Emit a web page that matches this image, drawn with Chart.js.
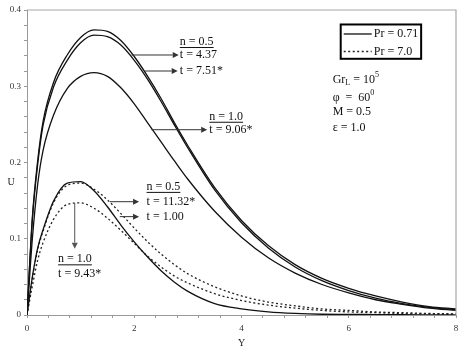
<!DOCTYPE html>
<html>
<head>
<meta charset="utf-8">
<script src="https://cdn.jsdelivr.net/npm/chart.js@4.4.1/dist/chart.umd.min.js"></script>
<style>
  html, body { margin: 0; padding: 0; background: #fff; }
</style>
</head>
<body>
<canvas id="chart" width="474" height="351"></canvas>
<script>
// Y positions shared by every profile
const yPos = [0, 0.1, 0.2, 0.3, 0.5, 0.75, 1.0, 1.25, 1.5, 1.75, 2.0, 2.25, 2.5, 2.75, 3.0, 3.5, 4.0, 4.5, 5.0, 5.5, 6.0, 6.5, 7.0, 7.5, 8.0];

// Pr = 0.71 (solid)
const uN05t437 = [0, 0.128, 0.203, 0.254, 0.306, 0.341, 0.364, 0.374, 0.372, 0.360, 0.339, 0.313, 0.284, 0.252, 0.222, 0.167, 0.124, 0.091, 0.066, 0.048, 0.035, 0.025, 0.017, 0.011, 0.008];
const uN05t751 = [0, 0.125, 0.198, 0.249, 0.300, 0.334, 0.357, 0.367, 0.365, 0.354, 0.334, 0.309, 0.280, 0.249, 0.219, 0.164, 0.121, 0.088, 0.063, 0.045, 0.032, 0.022, 0.015, 0.010, 0.007];
const uN10t906 = [0, 0.100, 0.172, 0.216, 0.263, 0.297, 0.313, 0.318, 0.313, 0.298, 0.277, 0.252, 0.227, 0.202, 0.178, 0.136, 0.102, 0.075, 0.055, 0.040, 0.029, 0.020, 0.014, 0.009, 0.006];
// lower group
const uN05t100 = [0, 0.050, 0.088, 0.112, 0.150, 0.173, 0.175, 0.163, 0.142, 0.118, 0.096, 0.076, 0.058, 0.043, 0.031, 0.015, 0.008, 0.004, 0.002, 0.001, 0.0008, 0.0005, 0.0003, 0.0002, 0.0001];
const uN05t1132 = [0, 0.048, 0.086, 0.110, 0.148, 0.170, 0.173, 0.165, 0.151, 0.133, 0.114, 0.096, 0.080, 0.066, 0.054, 0.037, 0.025, 0.017, 0.012, 0.008, 0.006, 0.004, 0.003, 0.002, 0.0015];
const uN10t943 = [0, 0.038, 0.072, 0.095, 0.126, 0.145, 0.147, 0.140, 0.127, 0.111, 0.094, 0.077, 0.063, 0.051, 0.042, 0.028, 0.019, 0.013, 0.009, 0.006, 0.004, 0.003, 0.002, 0.0015, 0.001];

const legendLabels = ['Pr = 0.71', 'Pr = 7.0'];

// annotation texts, placed in data coordinates [Y, U]
const labels = [
  { text: 'n = 0.5', at: [2.85, 0.358], underline: true },
  { text: 't = 4.37', at: [2.85, 0.341] },
  { text: 't = 7.51*', at: [2.85, 0.320] },
  { text: 'n = 1.0', at: [3.40, 0.260], underline: true },
  { text: 't = 9.06*', at: [3.40, 0.243] },
  { text: 'n = 0.5', at: [2.23, 0.168], underline: true },
  { text: 't = 11.32*', at: [2.23, 0.1486] },
  { text: 't = 1.00', at: [2.23, 0.129] },
  { text: 'n = 1.0', at: [0.58, 0.073], underline: true },
  { text: 't = 9.43*', at: [0.58, 0.054] }
];
const arrows = [
  { from: [1.95, 0.341], to: [2.83, 0.341] },
  { from: [2.20, 0.320], to: [2.81, 0.320] },
  { from: [2.32, 0.243], to: [3.36, 0.243] },
  { from: [1.545, 0.1486], to: [2.09, 0.1486] },
  { from: [1.73, 0.129], to: [2.09, 0.129] },
  { from: [0.89, 0.147], to: [0.89, 0.087] }
];
const params = [
  [{ t: 'Gr' }, { t: 'L', sub: true }, { t: ' = 10' }, { t: '5', sup: true }],
  [{ t: '\u03c6  =  60' }, { t: '0', sup: true }],
  [{ t: 'M = 0.5' }],
  [{ t: '\u03b5 = 1.0' }]
];
const paramY = [0.308, 0.285, 0.266, 0.245];

const SERIF = "'Liberation Serif', 'Times New Roman', serif";

function series(vals) {
  return yPos.map((v, i) => ({ x: v, y: vals[i] }));
}

function solid(vals) {
  return { data: series(vals), borderColor: '#111', borderWidth: 1.3, pointRadius: 0, fill: false, cubicInterpolationMode: 'monotone' };
}

function dotted(vals) {
  return { data: series(vals), borderColor: '#222', borderWidth: 1.3, borderDash: [2, 2.5], pointRadius: 0, fill: false, cubicInterpolationMode: 'monotone' };
}

function drawRich(ctx, parts, x, y) {
  let cx = x;
  parts.forEach(p => {
    const size = (p.sup || p.sub) ? 8 : 12;
    ctx.font = size + 'px ' + SERIF;
    const dy = p.sup ? -5 : (p.sub ? 3 : 0);
    ctx.fillText(p.t, cx, y + dy);
    cx += ctx.measureText(p.t).width;
  });
}

function drawArrow(ctx, x1, y1, x2, y2, color) {
  const ang = Math.atan2(y2 - y1, x2 - x1);
  const head = 6;
  ctx.strokeStyle = color;
  ctx.fillStyle = color;
  ctx.lineWidth = 1;
  ctx.beginPath();
  ctx.moveTo(x1, y1);
  ctx.lineTo(x2 - head * Math.cos(ang), y2 - head * Math.sin(ang));
  ctx.stroke();
  ctx.beginPath();
  ctx.moveTo(x2, y2);
  ctx.lineTo(x2 - head * Math.cos(ang) + 3 * Math.sin(ang), y2 - head * Math.sin(ang) - 3 * Math.cos(ang));
  ctx.lineTo(x2 - head * Math.cos(ang) - 3 * Math.sin(ang), y2 - head * Math.sin(ang) + 3 * Math.cos(ang));
  ctx.closePath();
  ctx.fill();
}

const annotations = {
  id: 'annotations',
  afterDraw(chart) {
    const { ctx, chartArea: a, scales: { x, y } } = chart;
    ctx.save();

    // frame on top and right
    ctx.strokeStyle = '#a8a8a8';
    ctx.lineWidth = 1.2;
    ctx.beginPath();
    ctx.moveTo(a.left, a.top);
    ctx.lineTo(a.right, a.top);
    ctx.lineTo(a.right, a.bottom);
    ctx.stroke();

    // axis titles
    ctx.fillStyle = '#222';
    ctx.font = '10px ' + SERIF;
    ctx.textAlign = 'center';
    ctx.textBaseline = 'middle';
    ctx.fillText('Y', x.getPixelForValue(4), a.bottom + 28);
    ctx.fillText('U', a.left - 16, y.getPixelForValue(0.174));

    // annotation texts
    ctx.textAlign = 'left';
    ctx.fillStyle = '#111';
    ctx.font = '12px ' + SERIF;
    labels.forEach(l => {
      const px = x.getPixelForValue(l.at[0]);
      const py = y.getPixelForValue(l.at[1]);
      ctx.fillText(l.text, px, py);
      if (l.underline) {
        const w = ctx.measureText(l.text).width;
        ctx.strokeStyle = '#111';
        ctx.lineWidth = 1;
        ctx.beginPath();
        ctx.moveTo(px, py + 5.5);
        ctx.lineTo(px + w, py + 5.5);
        ctx.stroke();
      }
    });

    arrows.forEach((ar, i) => {
      drawArrow(ctx,
        x.getPixelForValue(ar.from[0]), y.getPixelForValue(ar.from[1]),
        x.getPixelForValue(ar.to[0]), y.getPixelForValue(ar.to[1]),
        i === arrows.length - 1 ? '#555' : '#333');
    });

    // parameters
    ctx.fillStyle = '#111';
    params.forEach((p, i) => {
      drawRich(ctx, p, x.getPixelForValue(5.70), y.getPixelForValue(paramY[i]));
    });

    // legend box
    const bx1 = x.getPixelForValue(5.85), bx2 = x.getPixelForValue(7.35);
    const by1 = y.getPixelForValue(0.381), by2 = y.getPixelForValue(0.336);
    ctx.strokeStyle = '#000';
    ctx.lineWidth = 2;
    ctx.strokeRect(bx1, by1, bx2 - bx1, by2 - by1);
    ctx.font = '12px ' + SERIF;
    legendLabels.forEach((lab, i) => {
      const ds = chart.data.datasets[i === 0 ? 0 : 4];
      const ly = by1 + 9.5 + i * 17.5;
      ctx.strokeStyle = ds.borderColor;
      ctx.lineWidth = 1.3;
      ctx.setLineDash(ds.borderDash || []);
      ctx.beginPath();
      ctx.moveTo(bx1 + 3, ly);
      ctx.lineTo(bx1 + 31, ly);
      ctx.stroke();
      ctx.setLineDash([]);
      ctx.fillStyle = '#111';
      ctx.fillText(lab, bx1 + 33, ly);
    });

    ctx.restore();
  }
};

new Chart(document.getElementById('chart'), {
  type: 'line',
  data: {
    datasets: [
      solid(uN05t437),
      solid(uN05t751),
      solid(uN10t906),
      solid(uN05t100),
      dotted(uN05t1132),
      dotted(uN10t943)
    ]
  },
  options: {
    responsive: false,
    animation: false,
    layout: { padding: { top: 10, right: 18, left: 0, bottom: 0 } },
    plugins: { legend: { display: false }, tooltip: { enabled: false } },
    scales: {
      x: {
        type: 'linear',
        min: 0,
        max: 8,
        afterFit: s => { s.height = 36; },
        border: { color: '#999', width: 1 },
        grid: { drawOnChartArea: false, drawTicks: true, tickLength: 3, color: '#999' },
        ticks: {
          stepSize: 0.4,
          autoSkip: false,
          maxTicksLimit: 50,
          maxRotation: 0,
          padding: 5,
          color: '#333',
          font: { family: SERIF, size: 9 },
          callback: v => (Math.round(v / 0.4) % 5 === 0 ? String(Math.round(v)) : '')
        }
      },
      y: {
        min: 0,
        max: 0.4,
        afterFit: s => { s.width = 27; },
        border: { color: '#999', width: 1 },
        grid: { drawOnChartArea: false, drawTicks: true, tickLength: 3, color: '#999' },
        ticks: {
          stepSize: 0.02,
          autoSkip: false,
          maxTicksLimit: 50,
          padding: 3,
          color: '#333',
          font: { family: SERIF, size: 9 },
          callback: v => {
            const r = Math.round(v * 50);
            if (r % 5 !== 0) return '';
            return r === 0 ? '0' : (r / 50).toFixed(1);
          }
        }
      }
    }
  },
  plugins: [annotations]
});
</script>
</body>
</html>
